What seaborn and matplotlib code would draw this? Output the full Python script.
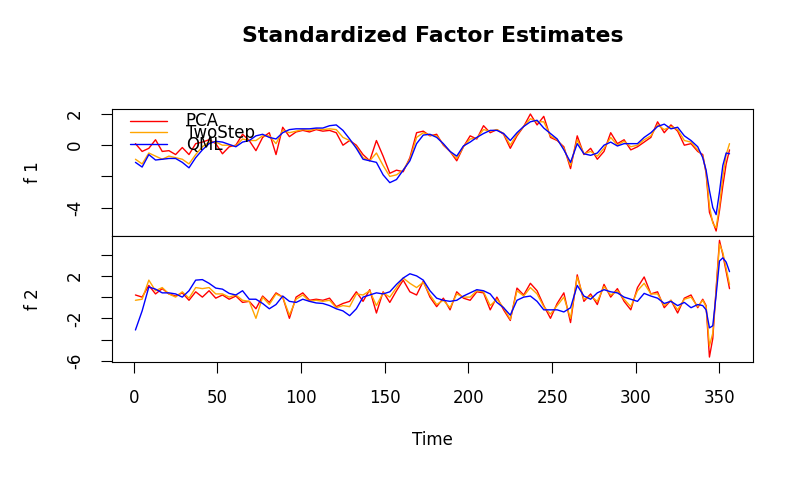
import numpy as np
import pandas as pd
import matplotlib
matplotlib.use("Agg")
import matplotlib.pyplot as plt
import seaborn as sns

# time index of the factor estimates (denser at the end around the big swing)
time = list(range(1, 338, 4)) + [340, 342, 344, 346, 348, 350, 352, 354, 356]
methods = ["PCA", "TwoStep", "QML"]
palette = {"PCA": "red", "TwoStep": "orange", "QML": "blue"}

# factor 1
f1_pca = [0.1, -0.4, -0.2, 0.35, -0.4, -0.35, -0.6, -0.15, -0.6, 0.1,
          0.2, 0.35, 0.1, -0.55, -0.1, 0.0, 0.7, 0.3, -0.35, 0.5,
          0.8, -0.6, 1.15, 0.55, 0.85, 0.95, 0.85, 1.0, 0.9, 0.95,
          0.8, 0.0, 0.3, 0.0, -0.6, -1.0, 0.3, -0.7, -1.8, -1.6,
          -1.7, -0.8, 0.8, 0.9, 0.6, 0.7, 0.0, -0.4, -1.0, -0.1,
          0.6, 0.4, 1.25, 0.8, 1.0, 0.7, -0.2, 0.6, 1.2, 2.0,
          1.3, 1.85, 0.5, 0.3, -0.1, -1.5, 0.6, -0.6, -0.2, -0.9,
          -0.4, 0.8, 0.1, 0.35, -0.3, -0.1, 0.2, 0.5, 1.5, 0.8,
          1.3, 0.9, 0.0, 0.1, -0.4,
          -0.6, -1.8, -4.3, -4.9, -5.5, -4.2, -2.6, -1.2, -0.3]
f1_twostep = [-0.9, -1.2, -0.5, -0.7, -0.9, -0.7, -0.8, -0.9, -1.2, -0.6,
              -0.1, 0.2, 0.2, 0.0, 0.0, -0.05, 0.4, 0.3, 0.3, 0.6,
              0.6, 0.1, 0.95, 0.8, 0.9, 1.0, 0.95, 1.05, 1.0, 1.05,
              1.0, 0.5, 0.3, -0.1, -0.8, -1.0, -0.5, -1.3, -2.0, -1.9,
              -1.6, -0.9, 0.5, 0.8, 0.65, 0.6, 0.05, -0.4, -0.85, -0.1,
              0.4, 0.45, 1.0, 0.9, 1.0, 0.75, 0.0, 0.7, 1.2, 1.7,
              1.5, 1.5, 0.6, 0.35, -0.2, -1.3, 0.35, -0.55, -0.4, -0.7,
              -0.2, 0.5, 0.0, 0.25, -0.1, 0.0, 0.35, 0.6, 1.3, 1.0,
              1.2, 1.0, 0.3, 0.2, -0.3,
              -0.7, -1.7, -3.9, -5.0, -5.3, -3.9, -2.0, -0.6, 0.1]
f1_qml = [-1.1, -1.4, -0.6, -0.95, -0.9, -0.85, -0.85, -1.1, -1.45, -0.8,
          -0.3, 0.1, 0.25, 0.2, 0.05, -0.1, 0.2, 0.3, 0.6, 0.7,
          0.5, 0.4, 0.8, 1.0, 1.05, 1.05, 1.05, 1.1, 1.1, 1.25,
          1.3, 0.95, 0.4, -0.2, -0.9, -1.0, -1.1, -1.9, -2.4, -2.2,
          -1.6, -1.0, 0.1, 0.65, 0.7, 0.5, 0.1, -0.4, -0.7, -0.05,
          0.2, 0.5, 0.75, 0.95, 0.95, 0.75, 0.3, 0.8, 1.2, 1.5,
          1.6, 1.1, 0.75, 0.4, -0.3, -1.1, 0.1, -0.55, -0.65, -0.5,
          0.0, 0.2, -0.05, 0.1, 0.1, 0.1, 0.5, 0.8, 1.2, 1.35,
          1.05, 1.15, 0.6, 0.3, -0.1,
          -0.8, -1.6, -2.9, -4.0, -4.45, -3.0, -1.3, -0.5, -0.55]

# factor 2
f2_pca = [0.2, 0.0, 1.1, 0.3, 0.8, 0.3, 0.1, 0.4, -0.3, 0.5,
          0.0, 0.6, -0.1, 0.2, -0.2, 0.1, -0.5, -0.4, -1.1, 0.1,
          -0.5, 0.4, 0.0, -2.0, 0.0, 0.4, -0.3, -0.2, -0.3, -0.1,
          -0.9, -0.6, -0.4, 0.5, -0.4, 0.7, -1.5, 0.5, -0.5, 0.6,
          1.6, 0.5, 0.2, 1.5, 0.0, -0.9, -0.1, -1.2, 0.5, -0.1,
          -0.3, 0.5, 0.4, -1.2, 0.0, -1.2, -2.2, 0.85, 0.2, 1.3,
          0.6, -0.8, -2.0, -0.6, 0.4, -2.4, 2.1, -0.4, 0.3, -0.7,
          1.2, 0.0, 0.8, -0.4, -1.2, 0.9, 1.9, 0.3, 0.5, -1.0,
          -0.3, -1.5, -0.1, 0.2, -1.0,
          -0.2, -0.8, -5.65, -3.9, 0.8, 5.35, 4.0, 2.4, 0.8]
f2_twostep = [-0.3, -0.2, 1.6, 0.6, 0.9, 0.3, 0.0, 0.5, -0.1, 0.9,
              0.8, 0.9, 0.3, 0.3, 0.0, 0.2, -0.3, -0.4, -2.0, 0.0,
              -0.7, 0.3, 0.0, -1.7, -0.2, 0.2, -0.4, -0.3, -0.4, -0.3,
              -1.0, -0.8, -0.9, 0.3, 0.2, 0.6, -0.8, 0.4, 0.0, 0.9,
              1.8, 1.3, 0.9, 1.4, 0.2, -0.7, -0.3, -1.0, 0.3, 0.0,
              0.0, 0.6, 0.5, -0.8, -0.2, -1.0, -2.1, 0.6, 0.1, 0.9,
              0.3, -0.9, -1.6, -0.8, 0.0, -2.0, 1.9, -0.2, 0.1, -0.4,
              1.0, 0.2, 0.6, -0.2, -0.9, 0.6, 1.3, 0.3, 0.3, -0.8,
              -0.3, -1.2, -0.2, 0.0, -0.9,
              -0.3, -0.9, -4.6, -3.4, 0.6, 5.0, 4.2, 2.7, 1.2]
f2_qml = [-3.1, -1.3, 0.95, 0.75, 0.4, 0.4, 0.3, 0.0, 0.6, 1.6,
          1.65, 1.3, 0.85, 0.75, 0.35, 0.2, 0.6, -0.2, -0.2, -0.6,
          -1.1, -0.7, 0.1, -0.4, -0.5, -0.2, -0.4, -0.55, -0.6, -0.8,
          -1.1, -1.3, -1.75, -1.1, 0.0, 0.2, 0.4, 0.3, 0.5, 1.2,
          1.8, 2.2, 2.0, 1.6, 0.6, -0.1, -0.3, -0.4, -0.3, 0.1,
          0.4, 0.7, 0.6, 0.3, -0.5, -1.0, -1.7, -0.3, 0.0, 0.1,
          -0.4, -1.2, -1.2, -1.2, -1.4, -1.0, 1.1, 0.1, -0.2, 0.4,
          0.7, 0.5, 0.4, 0.0, -0.2, -0.4, 0.35, 0.1, -0.1, -0.6,
          -0.4, -0.8, -0.5, -1.0, -0.7,
          -0.8, -1.2, -2.9, -2.7, 0.2, 3.4, 3.7, 3.3, 2.4]


def long_frame(series):
    parts = [pd.DataFrame({"Time": time, "value": v, "method": m})
             for m, v in zip(methods, series)]
    return pd.concat(parts, ignore_index=True)


def r_range(vals):
    # R pads axis ranges by 4% on each side
    lo, hi = float(np.min(vals)), float(np.max(vals))
    pad = 0.04 * (hi - lo)
    return lo - pad, hi + pad


df1 = long_frame([f1_pca, f1_twostep, f1_qml])
df2 = long_frame([f2_pca, f2_twostep, f2_qml])

sns.set_style("white")
plt.rcParams["font.family"] = ["DejaVu Sans"]
plt.rcParams["text.color"] = "black"
plt.rcParams["axes.labelcolor"] = "black"

fig = plt.figure(figsize=(8, 4.94), dpi=100)
ax1 = fig.add_axes([0.1396, 0.5229, 0.802, 0.2558])
ax2 = fig.add_axes([0.1396, 0.2678, 0.802, 0.2551], sharex=ax1)

for ax, df in [(ax1, df1), (ax2, df2)]:
    sns.lineplot(data=df, x="Time", y="value", hue="method", hue_order=methods,
                 palette=palette, linewidth=1.0, errorbar=None, legend=False, ax=ax)
    ax.set_ylim(*r_range(df["value"]))
    for s in ax.spines.values():
        s.set_color("black")
        s.set_linewidth(0.8)
    ax.tick_params(axis="y", direction="out", length=8, width=0.8, pad=12,
                   labelsize=12, labelrotation=90, left=True, colors="black")

ax1.set_xlim(*r_range(time))

ax1.set_yticks([-4, -2, 0, 2])
ax1.set_yticklabels(["-4", "", "0", "2"])
ax2.set_yticks([-6, -4, -2, 0, 2, 4])
ax2.set_yticklabels(["-6", "", "-2", "", "2", ""])
for ax in (ax1, ax2):
    for lbl in ax.get_yticklabels():
        lbl.set_va("center")

ax1.tick_params(axis="x", bottom=False, labelbottom=False)
ax2.set_xticks(range(0, 351, 50))
ax2.tick_params(axis="x", direction="out", length=8, width=0.8, pad=12,
                labelsize=12, bottom=True, colors="black")

ax1.set_xlabel("")
ax1.set_ylabel("f 1", fontsize=12)
ax2.set_ylabel("f 2", fontsize=12)
ax1.yaxis.set_label_coords(-0.1086, 0.5)
ax2.yaxis.set_label_coords(-0.1086, 0.5)
ax2.set_xlabel("Time", fontsize=12)
ax2.xaxis.set_label_coords(0.5, -0.55)

ax1.legend(ax1.lines[:3], methods, loc="upper left", bbox_to_anchor=(0.0285, 0.975),
           frameon=False, fontsize=12, handlelength=2.2, handletextpad=1.15,
           labelspacing=-0.37, borderpad=0, borderaxespad=0)

fig.text(0.5406, 0.9156, "Standardized Factor Estimates", ha="center", va="baseline",
         fontsize=15.8, fontweight="bold")

fig.savefig("out.png", dpi=100)
